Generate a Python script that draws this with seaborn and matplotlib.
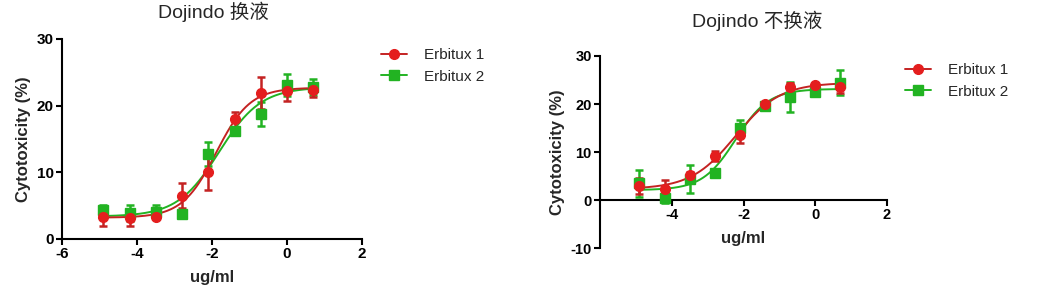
import numpy as np
import pandas as pd
import matplotlib
matplotlib.use("Agg")
import matplotlib.pyplot as plt
import seaborn as sns
from matplotlib.lines import Line2D

# ---------------- data ----------------
log_conc = [-4.9, -4.2, -3.5, -2.8, -2.1, -1.4, -0.7, 0.0, 0.7]
series_names = ["Erbitux 1", "Erbitux 2"]

# panel 1: Dojindo 换液
p1_e1_mean = [3.25, 3.1, 3.35, 6.5, 10.1, 17.95, 21.85, 22.25, 22.35]
p1_e1_err = [1.3, 1.1, 0.4, 1.9, 2.8, 1.1, 2.4, 1.5, 1.1]
p1_e2_mean = [4.35, 3.85, 4.1, 3.75, 12.75, 16.2, 18.75, 23.1, 22.75]
p1_e2_err = [0.75, 1.2, 1.0, 0.3, 1.8, 0.5, 1.8, 1.7, 1.2]

# panel 2: Dojindo 不换液
p2_e1_mean = [2.9, 2.2, 5.2, 9.2, 13.5, 19.9, 23.5, 24.0, 23.5]
p2_e1_err = [1.6, 1.9, 0.6, 1.0, 1.6, 0.5, 0.9, 0.4, 1.2]
p2_e2_mean = [3.5, 0.5, 4.3, 5.7, 14.9, 19.6, 21.5, 22.6, 24.4]
p2_e2_err = [2.8, 1.2, 2.9, 0.8, 1.7, 0.8, 3.1, 0.6, 2.6]

titles = ["Dojindo 换液", "Dojindo 不换液"]
xlabel = "ug/ml"
ylabel = "Cytotoxicity (%)"
p1_yticks = [0, 10, 20, 30]
p1_xticks = [-6, -4, -2, 0, 2]
p2_yticks = [-10, 0, 10, 20, 30]
p2_xticks = [-4, -2, 0, 2]

RED = "#e41e1e"
RED_DARK = "#c42222"
GREEN = "#22b322"


def fit_4pl(x, y):
    """Least-squares 4-parameter logistic fit (grid over EC50/Hill, linear for bottom/top)."""
    x = np.asarray(x, float)
    y = np.asarray(y, float)
    ec = np.arange(-4.0, 0.5, 0.005)
    hs = np.arange(0.3, 3.0, 0.01)
    E, H = np.meshgrid(ec, hs, indexing="ij")
    s = 1.0 / (1.0 + 10 ** ((E[..., None] - x) * H[..., None]))
    sm = s.mean(-1)
    ym = y.mean()
    cov = ((s - sm[..., None]) * (y - ym)).sum(-1)
    var = ((s - sm[..., None]) ** 2).sum(-1)
    amp = cov / var
    bot = ym - amp * sm
    pred = bot[..., None] + amp[..., None] * s
    sse = ((pred - y) ** 2).sum(-1)
    i, j = np.unravel_index(np.argmin(sse), sse.shape)
    return bot[i, j], bot[i, j] + amp[i, j], E[i, j], H[i, j]


def curve(x, y, xs):
    b, t, e, h = fit_4pl(x, y)
    return b + (t - b) / (1.0 + 10 ** ((e - xs) * h))


sns.set_theme(style="ticks")
plt.rcParams["font.family"] = ["Liberation Sans", "Noto Sans CJK SC", "DejaVu Sans"]
plt.rcParams["axes.unicode_minus"] = False

fig = plt.figure(figsize=(10.46, 3.0), dpi=100)
ax1 = fig.add_axes([62 / 1046, 1 - 239 / 300, 300 / 1046, 200 / 300])
ax2 = fig.add_axes([600 / 1046, 1 - 248 / 300, 287 / 1046, 192 / 300])

panels = [
    (ax1, p1_e1_mean, p1_e1_err, p1_e2_mean, p1_e2_err),
    (ax2, p2_e1_mean, p2_e1_err, p2_e2_mean, p2_e2_err),
]

xs = np.linspace(-4.9, 0.7, 300)
for ax, m1, e1, m2, e2 in panels:
    for mean, err, col, ecol, mk, ms in [
        (m2, e2, GREEN, GREEN, "s", 6.8),
        (m1, e1, RED, RED_DARK, "o", 7.0),
    ]:
        df = pd.DataFrame({"x": xs, "y": curve(log_conc, mean, xs)})
        sns.lineplot(data=df, x="x", y="y", ax=ax, color=ecol, lw=1.4, zorder=2)
        ax.errorbar(log_conc, mean, yerr=err, fmt="none", ecolor=ecol,
                    elinewidth=1.8, capsize=3.2, capthick=1.8, zorder=3)
        ax.plot(log_conc, mean, ls="none", marker=mk, ms=ms, color=col,
                mec=col, zorder=4)

for ax in (ax1, ax2):
    ax.set_xlim(-6, 2)
    for s in ("top", "right"):
        ax.spines[s].set_visible(False)
    for s in ("left", "bottom"):
        ax.spines[s].set_linewidth(1.5)
        ax.spines[s].set_color("black")
    ax.tick_params(direction="out", length=4, width=1.5, colors="black",
                   labelsize=11, pad=2)
    ax.set_ylabel(ylabel, fontsize=12, fontweight="bold", labelpad=4)
    ax.set_xlabel(xlabel, fontsize=12, fontweight="bold")

ax1.set_ylim(0, 30)
ax1.set_yticks(p1_yticks)
ax1.set_xticks(p1_xticks)
ax1.xaxis.labelpad = 6

ax2.set_ylim(-10, 30)
ax2.set_yticks(p2_yticks)
ax2.set_xticks(p2_xticks)
ax2.spines["bottom"].set_position(("data", 0))
ax2.xaxis.labelpad = 6
ax2.tick_params(labelsize=10.5)

for ax in (ax1, ax2):
    for lab in ax.get_xticklabels() + ax.get_yticklabels():
        lab.set_fontweight("bold")

fig.text(213 / 1046, 1 - 12 / 300, titles[0], ha="center", va="center", fontsize=14)
fig.text(757 / 1046, 1 - 21 / 300, titles[1], ha="center", va="center", fontsize=14)

handles = [
    Line2D([], [], color=RED_DARK, lw=1.4, marker="o", ms=7, mfc=RED, mec=RED),
    Line2D([], [], color=GREEN, lw=1.4, marker="s", ms=7, mfc=GREEN, mec=GREEN),
]
for (x0, y0) in [(381 / 1046, 1 - 48 / 300), (905 / 1046, 1 - 63 / 300)]:
    fig.legend(handles, series_names, loc="upper left", bbox_to_anchor=(x0, y0),
               frameon=False, fontsize=11, handlelength=1.7, handletextpad=1.1,
               labelspacing=0.5, borderaxespad=0, borderpad=0)

fig.savefig("out.png", dpi=100, facecolor="white")
